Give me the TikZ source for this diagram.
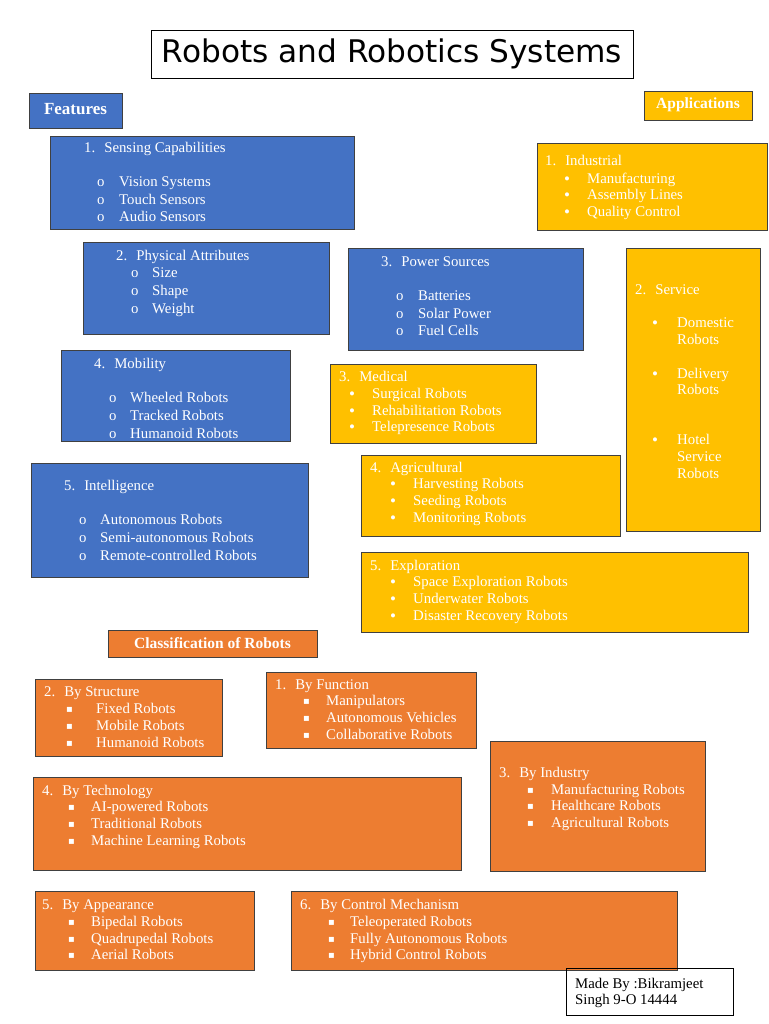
\documentclass[tikz,border=0pt]{standalone}
\usepackage{fontspec}
\setmainfont{Liberation Serif}
\newfontfamily\titlefont{DejaVu Sans}
\newfontfamily\symfont{DejaVu Sans}
\definecolor{fblue}{HTML}{4472C4}
\definecolor{fyel}{HTML}{FFC000}
\definecolor{forg}{HTML}{ED7D31}
\newcount\tcnt
\newcommand{\tx}[3]{\global\advance\tcnt by 1 \node[txt] (t\the\tcnt) at (#1,#2+2) {#3};}
\newcommand{\ob}[3]{\tx{#1}{#3}{o}\tx{#2}{#3}}
\newcommand{\yb}[3]{\tx{#1}{#3}{\raisebox{-1pt}{\fontsize{17}{17}\selectfont •}}\tx{#2}{#3}}
\newcommand{\sbul}[3]{\tx{#1}{#3}{\raisebox{1pt}{\symfont\fontsize{10}{10}\selectfont ▪}}\tx{#2}{#3}}
\begin{document}
\begin{tikzpicture}[x=1pt,y=-1pt,
  txt/.style={anchor=west,inner sep=0pt,text height=9pt,text depth=3pt,text=white,font=\fontsize{14.8}{16}\selectfont},
  bx/.style={draw=black!75,line width=0.6pt}]
\useasboundingbox (0,0) rectangle (768,1024);
\fill[white] (0,0) rectangle (768,1024);
% title
\draw[line width=0.8pt] (151,30) rectangle (633,78);
\node[font=\titlefont\fontsize{31.2}{34}\selectfont] (title) at (392,54) {Robots and Robotics Systems};
% headers
\filldraw[bx,fill=fblue] (29,93) rectangle (122,128);
\node[font=\bfseries\fontsize{17}{18}\selectfont,text=white] (feat) at (75.5,109) {Features};
\filldraw[bx,fill=fyel] (644,91) rectangle (752,120);
\node[font=\bfseries\fontsize{15.5}{16}\selectfont,text=white] (appl) at (698,105) {Applications};
\filldraw[bx,fill=forg] (108,630) rectangle (317,657);
\node[font=\bfseries\fontsize{15.5}{16}\selectfont,text=white] (clas) at (212.5,643.5) {Classification of Robots};
% blue boxes
\filldraw[bx,fill=fblue] (50,136) rectangle (354,229);
\tx{84}{148}{1.\hspace{9pt}Sensing Capabilities}
\ob{97}{119}{182}{Vision Systems}\ob{97}{119}{200}{Touch Sensors}\ob{97}{119}{217}{Audio Sensors}
\filldraw[bx,fill=fblue] (83,242) rectangle (329,334);
\tx{116}{255}{2.\hspace{9pt}Physical Attributes}
\ob{131}{152}{272}{Size}\ob{131}{152}{290}{Shape}\ob{131}{152}{308}{Weight}
\filldraw[bx,fill=fblue] (348,248) rectangle (583,350);
\tx{381}{261}{3.\hspace{9pt}Power Sources}
\ob{396}{418}{295}{Batteries}\ob{396}{418}{313}{Solar Power}\ob{396}{418}{330}{Fuel Cells}
\filldraw[bx,fill=fblue] (61,350) rectangle (290,441);
\tx{94}{363}{4.\hspace{9pt}Mobility}
\ob{109}{130}{397}{Wheeled Robots}\ob{109}{130}{415}{Tracked Robots}\ob{109}{130}{433}{Humanoid Robots}
\filldraw[bx,fill=fblue] (31,463) rectangle (308,577);
\tx{64}{485}{5.\hspace{9pt}Intelligence}
\ob{79}{100}{519}{Autonomous Robots}\ob{79}{100}{537}{Semi-autonomous Robots}\ob{79}{100}{555}{Remote-controlled Robots}
% yellow boxes
\filldraw[bx,fill=fyel] (537,143) rectangle (767,230);
\tx{545}{161}{1.\hspace{9pt}Industrial}
\yb{564}{587}{179}{Manufacturing}\yb{564}{587}{195}{Assembly Lines}\yb{564}{587}{212}{Quality Control}
\filldraw[bx,fill=fyel] (626,248) rectangle (760,531);
\tx{635}{289}{2.\hspace{9pt}Service}
\yb{652}{677}{322}{Domestic}\tx{677}{339}{Robots}
\yb{652}{677}{373}{Delivery}\tx{677}{389}{Robots}
\yb{652}{677}{439}{Hotel}\tx{677}{456}{Service}\tx{677}{473}{Robots}
\filldraw[bx,fill=fyel] (330,364) rectangle (536,443);
\tx{339}{376}{3.\hspace{9pt}Medical}
\yb{349}{372}{393}{Surgical Robots}\yb{349}{372}{410}{Rehabilitation Robots}\yb{349}{372}{426}{Telepresence Robots}
\filldraw[bx,fill=fyel] (361,455) rectangle (620,536);
\tx{370}{467}{4.\hspace{9pt}Agricultural}
\yb{390}{413}{483}{Harvesting Robots}\yb{390}{413}{500}{Seeding Robots}\yb{390}{413}{517}{Monitoring Robots}
\filldraw[bx,fill=fyel] (361,552) rectangle (748,632);
\tx{370}{565}{5.\hspace{9pt}Exploration}
\yb{390}{413}{581}{Space Exploration Robots}\yb{390}{413}{598}{Underwater Robots}\yb{390}{413}{615}{Disaster Recovery Robots}
% orange boxes
\filldraw[bx,fill=forg] (35,679) rectangle (222,756);
\tx{44}{691}{2.\hspace{9pt}By Structure}
\sbul{66}{96}{708}{Fixed Robots}\sbul{66}{96}{725}{Mobile Robots}\sbul{66}{96}{742}{Humanoid Robots}
\filldraw[bx,fill=forg] (266,672) rectangle (476,748);
\tx{275}{684}{1.\hspace{9pt}By Function}
\sbul{303}{326}{700}{Manipulators}\sbul{303}{326}{717}{Autonomous Vehicles}\sbul{303}{326}{734}{Collaborative Robots}
\filldraw[bx,fill=forg] (490,741) rectangle (705,871);
\tx{499}{772}{3.\hspace{9pt}By Industry}
\sbul{527}{551}{789}{Manufacturing Robots}\sbul{527}{551}{805}{Healthcare Robots}\sbul{527}{551}{822}{Agricultural Robots}
\filldraw[bx,fill=forg] (33,777) rectangle (461,870);
\tx{42}{790}{4.\hspace{9pt}By Technology}
\sbul{68}{91}{806}{AI-powered Robots}\sbul{68}{91}{823}{Traditional Robots}\sbul{68}{91}{840}{Machine Learning Robots}
\filldraw[bx,fill=forg] (35,891) rectangle (254,970);
\tx{42}{904}{5.\hspace{9pt}By Appearance}
\sbul{68}{91}{921}{Bipedal Robots}\sbul{68}{91}{938}{Quadrupedal Robots}\sbul{68}{91}{954}{Aerial Robots}
\filldraw[bx,fill=forg] (291,891) rectangle (677,970);
\tx{300}{904}{6.\hspace{9pt}By Control Mechanism}
\sbul{328}{350}{921}{Teleoperated Robots}\sbul{328}{350}{938}{Fully Autonomous Robots}\sbul{328}{350}{954}{Hybrid Control Robots}
% made by
\draw[line width=0.6pt] (566,968) rectangle (733,1015);
\node[txt,text=black] (made1) at (575,985) {Made By :Bikramjeet};
\node[txt,text=black] (made2) at (575,1001) {Singh 9-O 14444};
\end{tikzpicture}
\end{document}
